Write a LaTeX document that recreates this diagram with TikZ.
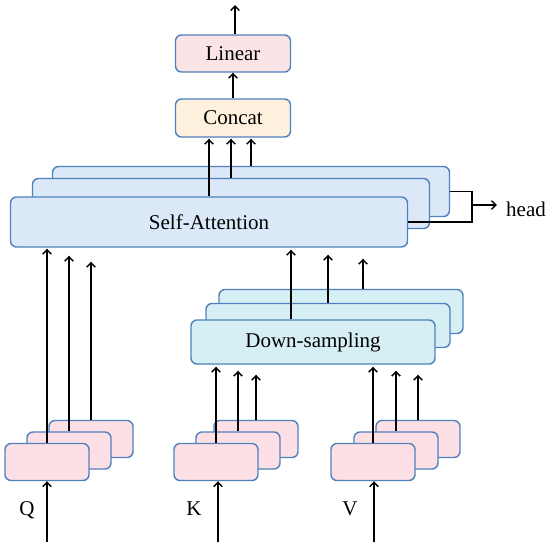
\documentclass[tikz,border=0pt]{standalone}
\usepackage{fontspec}
\setmainfont{Liberation Serif}
\usetikzlibrary{arrows.meta,calc}
\definecolor{bord}{RGB}{79,129,189}
\definecolor{linfill}{RGB}{251,228,230}
\definecolor{catfill}{RGB}{253,241,222}
\definecolor{safill}{RGB}{218,232,248}
\definecolor{dsfill}{RGB}{214,239,245}
\definecolor{qkvfill}{RGB}{253,224,230}
\tikzset{
  box/.style={draw=bord, line width=1.4pt, rounded corners=6pt, inner sep=0pt,
    font=\fontsize{21}{25}\selectfont},
  linbox/.style={box, fill=linfill, minimum width=115pt, minimum height=37pt},
  catbox/.style={box, fill=catfill, minimum width=115pt, minimum height=38pt},
  sabox/.style={box, fill=safill, minimum width=397pt, minimum height=50pt},
  dsbox/.style={box, fill=dsfill, minimum width=244pt, minimum height=44pt},
  qkvbox/.style={box, fill=qkvfill, minimum width=84pt, minimum height=37pt},
  lbl/.style={font=\fontsize{21}{25}\selectfont, inner sep=0pt},
  arr/.style={line width=1.4pt, -{Straight Barb[length=4.5pt,width=8.5pt]}},
  ln/.style={line width=1.4pt}
}
\begin{document}
\begin{tikzpicture}[x=1pt,y=-1pt]
\useasboundingbox (0,0) rectangle (550,550);

% top boxes
\node[linbox] (lin) at (233,53.5) {Linear};
\node[catbox] (cat) at (233,118) {Concat};
\coordinate (out) at (235,5);

% Self-Attention stack
\node[sabox] (sa3) at (251,191.5) {};
\node[sabox] (sa2) at (231,203.5) {};
\node[sabox] (sa1) at (209,222) {Self-Attention};

% Down-sampling stack
\node[dsbox] (ds3) at (341,311.5) {};
\node[dsbox] (ds2) at (328,325.5) {};
\node[dsbox] (ds1) at (313,342) {Down-sampling};

% Q K V stacks
\node[qkvbox] (q3) at (91,439) {};
\node[qkvbox] (q2) at (69,450.5) {};
\node[qkvbox] (q1) at (47,462) {};
\node[qkvbox] (k3) at (256,439) {};
\node[qkvbox] (k2) at (238,450.5) {};
\node[qkvbox] (k1) at (216,462) {};
\node[qkvbox] (v3) at (418,439) {};
\node[qkvbox] (v2) at (396,450.5) {};
\node[qkvbox] (v1) at (373,462) {};

% labels
\node[lbl] (ql) at (27,510) {Q};
\node[lbl] (kl) at (194,509) {K};
\node[lbl] (vl) at (350,509) {V};
\node[lbl, anchor=base west] (head) at (506,216) {head};

% input arrows
\coordinate (qin) at (47,542);
\coordinate (kin) at (218,542);
\coordinate (vin) at (374,542);
\draw[arr] (qin) -- (qin |- q1.south);
\draw[arr] (kin) -- (kin |- k1.south);
\draw[arr] (vin) -- (vin |- v1.south);

% Q to Self-Attention
\draw[arr] (q1.north) -- ($(q1.north |- sa1.south)+(0,1)$);
\draw[arr] (q2.north) -- ($(q2.north |- sa1.south)+(0,8)$);
\draw[arr] (q3.north) -- ($(q3.north |- sa1.south)+(0,14)$);

% K, V to Down-sampling
\draw[arr] (k1.north) -- ($(k1.north |- ds1.south)+(0,2)$);
\draw[arr] (k2.north) -- ($(k2.north |- ds1.south)+(0,6)$);
\draw[arr] (k3.north) -- ($(k3.north |- ds1.south)+(0,10)$);
\draw[arr] (v1.north) -- ($(v1.north |- ds1.south)+(0,2)$);
\draw[arr] (v2.north) -- ($(v2.north |- ds1.south)+(0,6)$);
\draw[arr] (v3.north) -- ($(v3.north |- ds1.south)+(0,10)$);

% Down-sampling to Self-Attention
\coordinate (d1) at ($(ds1.north)+(-22,0)$);
\coordinate (d3) at ($(ds3.north)+(22,0)$);
\draw[arr] (d1) -- ($(d1 |- sa1.south)+(0,2)$);
\draw[arr] (ds2.north) -- ($(ds2.north |- sa1.south)+(0,7)$);
\draw[arr] (d3) -- ($(d3 |- sa1.south)+(0,11)$);

% Self-Attention to Concat
\draw[arr] (sa1.north) -- ($(sa1.north |- cat.south)+(0,1)$);
\draw[arr] (sa2.north) -- ($(sa2.north |- cat.south)+(0,1)$);
\draw[arr] (sa3.north) -- ($(sa3.north |- cat.south)+(0,1)$);

% Concat to Linear, Linear out
\draw[arr] (cat.north) -- (lin.south);
\draw[arr] (out |- lin.north) -- (out);

% head bracket
\coordinate (brk) at (472,205);
\draw[ln] (sa3.east) -| (brk) |- (sa1.east);
\draw[arr] (brk) -- ($(brk -| head.west)+(-9,0)$);
\end{tikzpicture}
\end{document}
